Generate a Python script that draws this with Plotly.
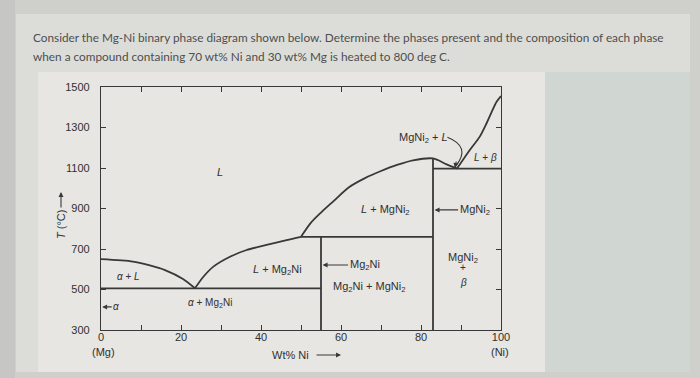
import plotly.graph_objects as go

# ---------------- data ----------------
x_tick_vals = [0, 10, 20, 30, 40, 50, 60, 70, 80, 90, 100]
x_tick_text = ["0", "", "20", "", "40", "", "60", "", "80", "", "100"]
y_tick_vals = [300, 500, 700, 900, 1100, 1300, 1500]
y_tick_text = ["300", "500", "700", "900", "1100", "1300", "1500"]

# liquidus Mg side (alpha + L)
liq_mg_wt = [0, 8, 12, 16, 20.5, 23.5]
liq_mg_T = [650, 638, 620, 596, 552, 506]
# liquidus from eutectic to Mg2Ni peritectic
liq_mg2ni_wt = [23.5, 25.6, 28.1, 32.25, 36.4, 41.4, 46.4, 50]
liq_mg2ni_T = [506, 563, 613, 662, 695, 720, 744, 760]
# liquidus L + MgNi2 (up to congruent maximum and down to eutectic)
liq_mgni2_wt = [50, 52.5, 55, 58, 62, 66, 70, 74, 78, 83, 86.4, 89]
liq_mgni2_T = [760, 830, 880, 934, 1005, 1050, 1085, 1115, 1138, 1147, 1118, 1097]
# liquidus Ni side (L + beta)
liq_ni_wt = [89, 92.2, 94.7, 96.4, 97.7, 98.9, 100]
liq_ni_T = [1097, 1189, 1255, 1321, 1378, 1427, 1455]

# compounds and invariant lines
mg2ni_wt = 55
mgni2_wt = 83
mgni2_melt_T = 1147
eutectic1_T = 506
peritectic_T = 760
peritectic_wt = 50
eutectic2_T = 1097
T_min, T_max = 300, 1500

# ---------------- figure ----------------
W, H = 700, 378
L_PX, R_PX, T_PX, B_PX = 101, 501, 87, 330


def pxx(p):
    return (p - L_PX) / (R_PX - L_PX)


def pxy(p):
    return (B_PX - p) / (B_PX - T_PX)


LINE = "#383838"
TXT = "#303030"
FONT = "Liberation Sans, Arial, sans-serif"

fig = go.Figure()


def add_line(xs, ys, spline=False, width=1.8):
    fig.add_trace(go.Scatter(
        x=xs, y=ys, mode="lines",
        line=dict(color=LINE, width=width, shape="spline" if spline else "linear",
                  smoothing=0.8),
        hoverinfo="skip", showlegend=False))


add_line(liq_mg_wt, liq_mg_T, spline=True)
add_line(liq_mg2ni_wt, liq_mg2ni_T, spline=True)
add_line(liq_mgni2_wt, liq_mgni2_T, spline=True)
add_line(liq_ni_wt, liq_ni_T, spline=True)
add_line([0, mg2ni_wt], [eutectic1_T, eutectic1_T])
add_line([peritectic_wt, mgni2_wt], [peritectic_T, peritectic_T])
add_line([mgni2_wt, 100], [eutectic2_T, eutectic2_T])
add_line([mg2ni_wt, mg2ni_wt], [T_min, peritectic_T])
add_line([mgni2_wt, mgni2_wt], [T_min, mgni2_melt_T])

# ---------------- backgrounds ----------------
shapes = []


def bg(x0, y0, x1, y1, color):
    shapes.append(dict(type="rect", xref="paper", yref="paper",
                       x0=pxx(x0), x1=pxx(x1), y0=pxy(y1), y1=pxy(y0),
                       fillcolor=color, line=dict(width=0), layer="below"))


bg(0, 0, 700, 378, "#cfd0cc")
bg(0, 0, 15, 378, "#c6c7c4")
bg(16, 14, 690, 372, "#dcddd9")
bg(38, 72, 545, 372, "#e7e6e2")
bg(545, 72, 690, 372, "#d0d6d2")

# curved arrow from "MgNi2 + L" to the eutectic
shapes.append(dict(type="path", xref="x", yref="y",
                   path="M 86.6,1252 Q 92.6,1205 88.7,1110",
                   line=dict(color=LINE, width=1.1)))

ann = []


def lab(x, y, text, size=11, **kw):
    d = dict(x=x, y=y, xref="x", yref="y", text=text, showarrow=False,
             xanchor="center", yanchor="middle",
             font=dict(family=FONT, size=size, color=TXT))
    d.update(kw)
    ann.append(d)


def arrow_lab(x, y, text, ax, ay=0, size=11):
    ann.append(dict(x=x, y=y, xref="x", yref="y", text=text, showarrow=True,
                    ax=ax, ay=ay, arrowhead=2, arrowsize=0.9, arrowwidth=1.1,
                    arrowcolor=LINE, standoff=0,
                    font=dict(family=FONT, size=size, color=TXT)))


lab(29.75, 1080, "<i>L</i>")
lab(80.6, 1248, "MgNi<sub>2</sub> + <i>L</i>")
lab(96, 1154, "<i>L</i> + <i>β</i>", size=10)
lab(71, 893, "<i>L</i> + MgNi<sub>2</sub>")
arrow_lab(83.4, 893, "MgNi<sub>2</sub>", ax=40)
lab(6.75, 562, "<i>α</i> + <i>L</i>", size=10)
lab(44, 596, "<i>L</i> + Mg<sub>2</sub>Ni")
arrow_lab(55.4, 621, "Mg<sub>2</sub>Ni", ax=42)
lab(66.9, 514, "Mg<sub>2</sub>Ni + MgNi<sub>2</sub>")
lab(27.25, 435, "<i>α</i> + Mg<sub>2</sub>Ni", size=10)
arrow_lab(0.3, 414, "<i>α</i>", ax=14, size=10)
lab(90.5, 656, "MgNi<sub>2</sub>")
lab(90.5, 607, "+", size=10)
lab(90.5, 536, "<i>β</i>", size=10)
arrow_lab(100.3, 736, "<i>β</i>", ax=22, size=10)
# arrowhead of curved arrow
ann.append(dict(x=88.5, y=1100, xref="x", yref="y", text="", showarrow=True,
                ax=1.5, ay=-8, arrowhead=2, arrowsize=0.9, arrowwidth=1.1,
                arrowcolor=LINE, standoff=0))


def plab(x, y, text, size=11, family=FONT, color=TXT, xanchor="center", **kw):
    d = dict(x=pxx(x), y=pxy(y), xref="paper", yref="paper", text=text,
             showarrow=False, xanchor=xanchor, yanchor="middle",
             font=dict(family=family, size=size, color=color))
    d.update(kw)
    ann.append(d)


QF = "Lato, Open Sans, sans-serif"
plab(31, 37, "Consider the Mg-Ni binary phase diagram shown below. Determine the phases present and the composition of each phase",
     size=11.8, family=QF, color="#4e4e4e", xanchor="left")
plab(31, 56, "when a compound containing 70 wt% Ni and 30 wt% Mg is heated to 800 deg C.",
     size=11.8, family=QF, color="#4e4e4e", xanchor="left")

plab(61, 225, "<i>T</i> (°C)", textangle=-90)
ann.append(dict(x=pxx(61), y=pxy(192), xref="paper", yref="paper", text="",
                showarrow=True, ax=0, ay=17, arrowhead=2, arrowsize=0.9,
                arrowwidth=1.1, arrowcolor=LINE, standoff=0))
plab(290, 355, "Wt% Ni")
ann.append(dict(x=pxx(341), y=pxy(355), xref="paper", yref="paper", text="",
                showarrow=True, ax=-26, ay=0, arrowhead=2, arrowsize=0.9,
                arrowwidth=1.1, arrowcolor=LINE, standoff=0))
plab(103, 352, "(Mg)")
plab(500, 351.5, "(Ni)")

fig.update_layout(
    width=W, height=H,
    margin=dict(l=L_PX, r=W - R_PX, t=T_PX, b=H - B_PX),
    paper_bgcolor="#cfd0cc", plot_bgcolor="rgba(0,0,0,0)",
    shapes=shapes, annotations=ann, showlegend=False,
    xaxis=dict(range=[0, 100], tickvals=x_tick_vals, ticktext=x_tick_text,
               ticks="inside", ticklen=5, tickwidth=1, tickcolor=LINE,
               showline=True, linecolor=LINE, linewidth=1.3, mirror="ticks",
               showgrid=False, zeroline=False, ticklabelstandoff=-3,
               tickfont=dict(family=FONT, size=11, color=TXT)),
    yaxis=dict(range=[T_min, T_max], tickvals=y_tick_vals, ticktext=y_tick_text,
               ticks="inside", ticklen=5, tickwidth=1, tickcolor=LINE,
               showline=True, linecolor=LINE, linewidth=1.3, mirror="ticks",
               showgrid=False, zeroline=False, ticklabelstandoff=8,
               tickfont=dict(family=FONT, size=11, color=TXT)),
)

fig.write_html("out.html",
               config={"displayModeBar": False},
               post_script="document.body.style.margin='0';"
                           "document.body.style.overflow='hidden';")
